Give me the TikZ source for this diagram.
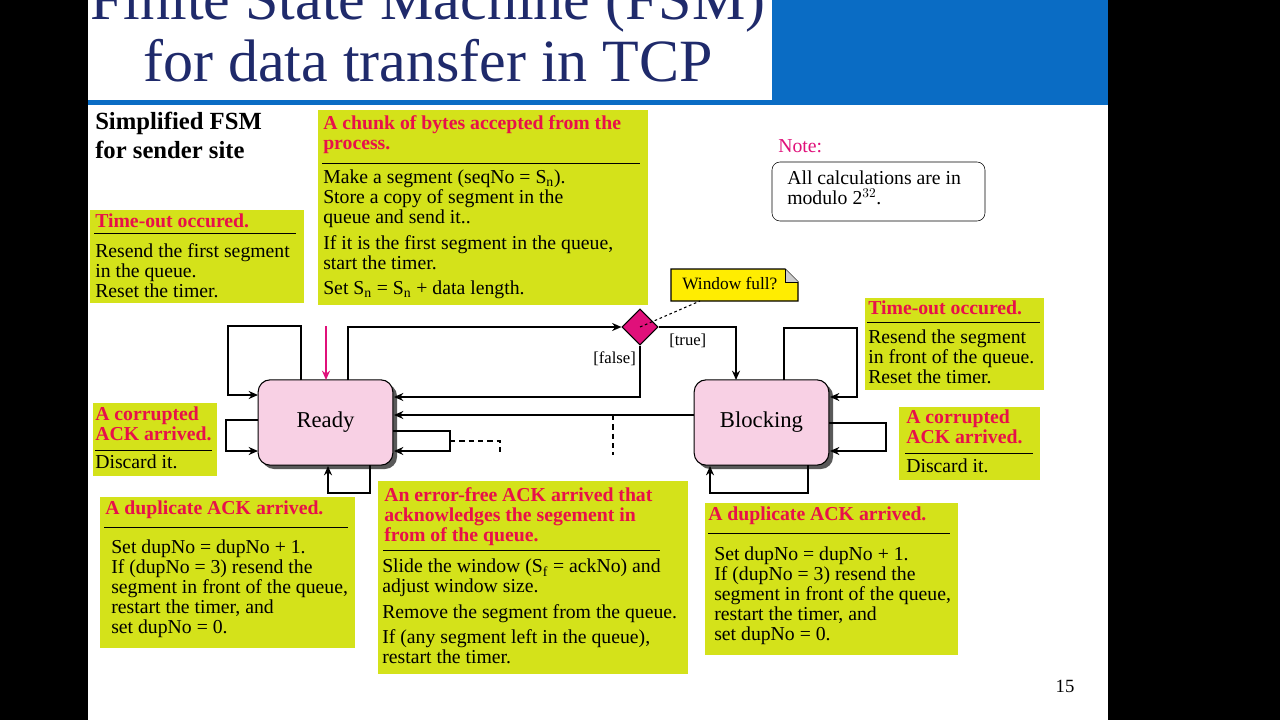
\documentclass[tikz,border=0pt]{standalone}
\usepackage{fontspec}
\setmainfont{Liberation Serif}
\usetikzlibrary{arrows.meta,shapes.geometric}
\definecolor{ybox}{HTML}{D4E21A}
\definecolor{hred}{HTML}{E8104A}
\definecolor{pinks}{HTML}{F8D0E4}
\definecolor{mag}{HTML}{E0107A}
\definecolor{slideblue}{HTML}{0A6CC4}
\definecolor{navy}{HTML}{1F2A6B}
\tikzset{
 x=0.75pt,y=-0.75pt,
 ybg/.style={fill=ybox,draw=none},
 txt/.style={anchor=north west,align=left,inner sep=0pt,font=\fontsize{14.8}{15}\selectfont},
 hdr/.style={txt,text=hred,font=\fontsize{14.8}{15}\selectfont\bfseries},
 state/.style={draw=black,thick,fill=pinks,rounded corners=9pt,minimum width=101pt,minimum height=64pt,font=\fontsize{17}{18}\selectfont},
 conn/.style={line width=1.3pt,-{Stealth[length=7pt,width=6pt]}},
 dsh/.style={line width=1.3pt,dash pattern=on 4pt off 3pt},
}
\begin{document}
\begin{tikzpicture}
\useasboundingbox (0,0) rectangle (1280,720);
\fill[black] (0,0) rectangle (1280,720);
\fill[white] (88,105) rectangle (1108,720);
\fill[slideblue] (88,0) rectangle (1108,105);
\fill[white] (88,0) rectangle (772,100);
\begin{scope}
\clip (88,0) rectangle (772,100);
\node[anchor=base,text=navy,font=\fontsize{45}{48}\selectfont] (t1) at (428,20) {Finite State Machine (FSM)};
\node[anchor=base,text=navy,font=\fontsize{45}{48}\selectfont] (t2) at (428,82) {for data transfer in TCP};
\end{scope}
\node[txt,font=\fontsize{18.5}{22}\selectfont\bfseries] (st) at (95,112) {Simplified FSM\\for sender site};

% Box A
\fill[ybg] (318,110) rectangle (648,305);
\node[hdr] (ah) at (323,115) {A chunk of bytes accepted from the\\process.};
\draw (322,163) -- (640,163);
\node[txt] (ab) at (323,170) {Make a segment (seqNo = S$_\mathrm{n}$).\\Store a copy of segment in the\\queue and send it..\\[4pt]If it is the first segment in the queue,\\start the timer.\\[4pt]Set S$_\mathrm{n}$ = S$_\mathrm{n}$ + data length.};
% Box B
\fill[ybg] (90,210) rectangle (304,303);
\node[hdr] (bh) at (95,214) {Time-out occured.};
\draw (94,233) -- (296,233);
\node[txt] (bb) at (95,243) {Resend the first segment\\in the queue.\\Reset the timer.};
% Box C
\fill[ybg] (93,403) rectangle (217,476);
\node[hdr] (ch) at (95,407) {A corrupted\\ACK arrived.};
\draw (95,450) -- (212,450);
\node[txt] (cb) at (95,455) {Discard it.};
% Box D
\fill[ybg] (100,497) rectangle (355,648);
\node[hdr] (dh) at (105,501) {A duplicate ACK arrived.};
\draw (104,527) -- (348,527);
\node[txt] (db) at (111,540) {Set dupNo = dupNo + 1.\\If (dupNo = 3) resend the\\segment in front of the queue,\\restart the timer, and\\set dupNo = 0.};
% Box E
\fill[ybg] (378,481) rectangle (688,674);
\node[hdr] (eh) at (384,487) {An error-free ACK arrived that\\acknowledges the segement in\\from of the queue.};
\draw (383,550) -- (660,550);
\node[txt] (eb) at (382,559) {Slide the window (S$_\mathrm{f}$ = ackNo) and\\adjust window size.\\[4pt]Remove the segment from the queue.\\[4pt]If (any segment left in the queue),\\restart the timer.};
% Box F
\fill[ybg] (705,503) rectangle (958,655);
\node[hdr] (fh) at (708,507) {A duplicate ACK arrived.};
\draw (708,533) -- (950,533);
\node[txt] (fb) at (714,547) {Set dupNo = dupNo + 1.\\If (dupNo = 3) resend the\\segment in front of the queue,\\restart the timer, and\\set dupNo = 0.};
% Box G
\fill[ybg] (865,298) rectangle (1044,390);
\node[hdr] (gh) at (868,301) {Time-out occured.};
\draw (867,322) -- (1040,322);
\node[txt] (gb) at (868,330) {Resend the segment\\in front of the queue.\\ Reset the timer.};
% Box H
\fill[ybg] (899,407) rectangle (1040,480);
\node[hdr] (hh) at (906,410) {A corrupted\\ACK arrived.};
\draw (905,453) -- (1033,453);
\node[txt] (hb) at (906,459) {Discard it.};

% Note
\node[txt,text=mag] (nt) at (778,139) {Note:};
\draw[rounded corners=6pt] (772,162) rectangle (985,221);
\node[txt] (nb) at (787,171) {All calculations are in\\modulo 2$^{32}$.};

% Window full
\fill[yellow!95!orange] (671,269) -- (785,269) -- (798,282) -- (798,301) -- (671,301) -- cycle;
\draw[thick] (671,269) -- (785,269) -- (798,282) -- (798,301) -- (671,301) -- cycle;
\fill[gray!40] (785,269) -- (785,282) -- (798,282) -- cycle;
\draw (785,269) -- (785,282) -- (798,282);
\node[txt,font=\fontsize{13}{15}\selectfont] (wf) at (682,277) {Window full?};

% states
\fill[gray!70!black,rounded corners=9pt] (262,384) rectangle (397,469);
\node[state] (R) at (325.5,422.5) {Ready};
\fill[gray!70!black,rounded corners=9pt] (698,384) rectangle (833,469);
\node[state] (B) at (761.5,422.5) {Blocking};
\node[diamond,draw,thick,fill=mag,minimum width=27pt,minimum height=27pt,inner sep=0pt] (D) at (640,327) {};
\draw[line width=0.8pt,dash pattern=on 2pt off 2pt] (D.center) -- (700,301);
\node[txt,font=\fontsize{12.5}{14}\selectfont] (fl) at (593,351) {[false]};
\node[txt,font=\fontsize{12.5}{14}\selectfont] (tr) at (669,334) {[true]};

% connectors
\draw[conn] (301,380) -- (301,326) -- (228,326) -- (228,395) -- (258,395);
\draw[conn,mag] (326,326) -- (326,380);
\draw[conn] (348,380) -- (348,327) -- (D.west);
\draw[conn] (D.south) -- (640,397) -- (394,397);
\draw[conn] (D.east) -- (736,327) -- (736,380);
\draw[conn] (694,415) -- (394,415);
\draw[dsh] (613,415) -- (613,455);
\draw[conn] (393,431) -- (450,431) -- (450,451) -- (394,451);
\draw[dsh] (450,441) -- (500,441) -- (500,455);
\draw[conn] (258,420) -- (226,420) -- (226,451) -- (258,451);
\draw[conn] (370,465) -- (370,493) -- (328,493) -- (328,466);
\draw[conn] (784,380) -- (784,328) -- (857,328) -- (857,397) -- (830,397);
\draw[conn] (829,423) -- (886,423) -- (886,451) -- (830,451);
\draw[conn] (808,465) -- (808,493) -- (710,493) -- (710,466);

\node[font=\fontsize{14}{16}\selectfont] (pn) at (1065,686) {15};
\end{tikzpicture}
\end{document}
